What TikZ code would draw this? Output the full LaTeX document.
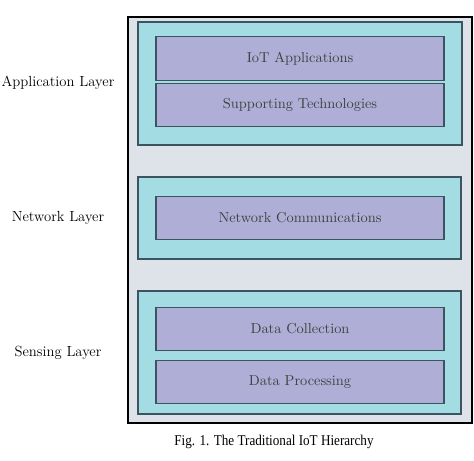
\documentclass[tikz,border=0pt]{standalone}
\usepackage{fontspec}
\newfontfamily\capfont{Liberation Serif}
\definecolor{framegray}{HTML}{DEE3EA}
\definecolor{layerteal}{HTML}{A4DCE3}
\definecolor{modpurple}{HTML}{AEAED6}
\definecolor{edgeslate}{HTML}{3C5460}
\tikzset{every picture/.style={line width=0.75pt}}
\tikzset{
  layerbox/.style={draw=edgeslate, fill=layerteal, line width=1.1pt},
  modbox/.style={draw=edgeslate, fill=modpurple, line width=1.1pt, inner sep=0pt,
    minimum width=216pt, minimum height=32.6pt, text=black!75, font=\fontsize{10.8}{12}\selectfont},
  sidelabel/.style={inner sep=0.75pt, font=\fontsize{11}{13}\selectfont}
}
\begin{document}
\begin{tikzpicture}[x=0.75pt,y=0.75pt,yscale=-1,xscale=1]
		\useasboundingbox (0,0) rectangle (474,460);
		
		%Outer frame
		\draw  [fill=framegray, line width=1.5pt]  (128,17) rectangle (472,423) ;
		%Application layer
		\draw  [layerbox]  (138,22) rectangle (462,145) ;
		%Network layer
		\draw  [layerbox]  (138,177) rectangle (461,259) ;
		%Sensing layer
		\draw  [layerbox]  (138,291) rectangle (461,414) ;
		
		% Module Nodes
		\node [modbox] (iotapp) at (300,58.5) {IoT Applications};
		\node [modbox] (suptech) at (300,105) {Supporting Technologies};
		\node [modbox] (netcomm) at (300,218) {Network Communications};
		\node [modbox] (datacoll) at (300,329) {Data Collection};
		\node [modbox] (dataproc) at (300,382) {Data Processing};
		
		% Text Node
		\node [sidelabel] (applabel) at (58,83) {Application Layer};
		% Text Node
		\node [sidelabel] (netlabel) at (58,218) {Network Layer};
		% Text Node
		\node [sidelabel] (senlabel) at (58,353) {Sensing Layer};
		% Text Node
		\node [inner sep=0.75pt, xscale=0.88, font=\capfont\fontsize{11.2}{13}\selectfont] (caption) at (274,442) {Fig. 1. The Traditional IoT Hierarchy};
		
	\end{tikzpicture}
\end{document}
